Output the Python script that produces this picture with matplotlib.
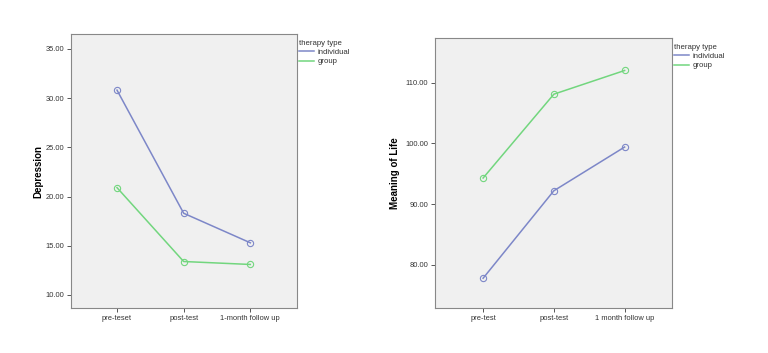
import matplotlib.pyplot as plt
from matplotlib.ticker import FormatStrFormatter
from matplotlib.lines import Line2D

plt.rcParams['font.family'] = ['Liberation Sans', 'DejaVu Sans']

# data
dep_labels = ["pre-teset", "post-test", "1-month follow up"]
dep_individual = [30.8, 18.3, 15.3]
dep_group = [20.9, 13.4, 13.1]

mol_labels = ["pre-test", "post-test", "1 month follow up"]
mol_individual = [77.8, 92.2, 99.4]
mol_group = [94.3, 108.1, 112.0]

BLUE = "#7d87c8"
GREEN = "#72d67e"
BG = "#f0f0f0"

fig = plt.figure(figsize=(7.68, 3.53), dpi=100)
W, H = 768, 353


def panel(rect, labels, ind, grp, ylabel, ylim, yticks, xlim, ylab_x):
    l, t, r, b = rect
    ax = fig.add_axes([l / W, 1 - b / H, (r - l) / W, (b - t) / H])
    ax.set_facecolor(BG)
    x = range(len(labels))
    ax.plot(x, ind, color=BLUE, lw=1.1, marker="o", ms=4.5, mfc="none", mec=BLUE, mew=0.8)
    ax.plot(x, grp, color=GREEN, lw=1.1, marker="o", ms=4.5, mfc="none", mec=GREEN, mew=0.8)
    ax.set_xlim(*xlim)
    ax.set_ylim(*ylim)
    ax.set_xticks(list(x))
    ax.set_xticklabels(labels)
    ax.set_yticks(yticks)
    ax.yaxis.set_major_formatter(FormatStrFormatter("%.2f"))
    ax.tick_params(labelsize=5.4, length=3, width=0.7, color="#555555", labelcolor="#333333", pad=2)
    for s in ax.spines.values():
        s.set_color("#888888")
        s.set_linewidth(0.8)
    ax.set_ylabel(ylabel, fontsize=7, fontweight="bold")
    ax.yaxis.set_label_coords((ylab_x - l) / (r - l), 0.5)
    handles = [Line2D([], [], color=BLUE, lw=1.1), Line2D([], [], color=GREEN, lw=1.1)]
    leg = ax.legend(handles, ["individual", "group"], loc="upper left", bbox_to_anchor=(1.0, 0.985),
                    frameon=False, fontsize=5.6, title="therapy type", title_fontsize=5.6,
                    handlelength=2.0, handletextpad=0.4, borderaxespad=0.0, borderpad=0.2,
                    labelspacing=0.25, alignment="left")
    leg.get_title().set_color("#333333")
    for txt in leg.get_texts():
        txt.set_color("#333333")
    return ax


panel((71, 34, 297, 308), dep_labels, dep_individual, dep_group, "Depression",
      (8.68, 36.5), [10, 15, 20, 25, 30, 35], (-0.69, 2.70), 43)
panel((435, 38, 672, 308), mol_labels, mol_individual, mol_group, "Meaning of Life",
      (72.9, 117.35), [80, 90, 100, 110], (-0.68, 2.67), 400)

fig.savefig("out.png", dpi=100, facecolor="white")
